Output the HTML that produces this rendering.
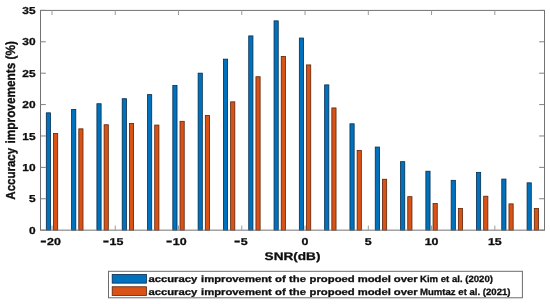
<!DOCTYPE html>
<html><head><meta charset="utf-8"><title>Accuracy improvements</title>
<style>
html,body{margin:0;padding:0;background:#fff;}
svg{display:block;}
text{font-family:"Liberation Sans",sans-serif;font-weight:bold;fill:#111;stroke:#111;stroke-width:0.3px;stroke-linejoin:round;text-rendering:geometricPrecision;}
</style></head><body>
<svg width="550" height="304" viewBox="0 0 550 304">
<defs><filter id="soft" x="0" y="0" width="550" height="304" filterUnits="userSpaceOnUse"><feGaussianBlur stdDeviation="0.36"/></filter></defs>
<rect x="0" y="0" width="550" height="304" fill="#ffffff"/>
<g filter="url(#soft)">
<rect x="0" y="0" width="550" height="304" fill="#ffffff"/>

<rect x="46.30" y="112.83" width="4.20" height="117.32" fill="#0072bd" stroke="#062c4c" stroke-width="0.8"/>
<rect x="53.50" y="133.55" width="4.20" height="96.60" fill="#d95319" stroke="#5a240a" stroke-width="0.8"/>
<rect x="71.60" y="109.37" width="4.20" height="120.78" fill="#0072bd" stroke="#062c4c" stroke-width="0.8"/>
<rect x="78.80" y="128.84" width="4.20" height="101.31" fill="#d95319" stroke="#5a240a" stroke-width="0.8"/>
<rect x="96.91" y="103.72" width="4.20" height="126.43" fill="#0072bd" stroke="#062c4c" stroke-width="0.8"/>
<rect x="104.11" y="124.76" width="4.20" height="105.39" fill="#d95319" stroke="#5a240a" stroke-width="0.8"/>
<rect x="122.21" y="98.70" width="4.20" height="131.45" fill="#0072bd" stroke="#062c4c" stroke-width="0.8"/>
<rect x="129.41" y="123.50" width="4.20" height="106.65" fill="#d95319" stroke="#5a240a" stroke-width="0.8"/>
<rect x="147.52" y="94.62" width="4.20" height="135.53" fill="#0072bd" stroke="#062c4c" stroke-width="0.8"/>
<rect x="154.72" y="125.07" width="4.20" height="105.08" fill="#d95319" stroke="#5a240a" stroke-width="0.8"/>
<rect x="172.82" y="85.52" width="4.20" height="144.63" fill="#0072bd" stroke="#062c4c" stroke-width="0.8"/>
<rect x="180.02" y="121.30" width="4.20" height="108.85" fill="#d95319" stroke="#5a240a" stroke-width="0.8"/>
<rect x="198.12" y="73.15" width="4.20" height="157.00" fill="#0072bd" stroke="#062c4c" stroke-width="0.8"/>
<rect x="205.32" y="115.53" width="4.20" height="114.62" fill="#d95319" stroke="#5a240a" stroke-width="0.8"/>
<rect x="223.43" y="59.15" width="4.20" height="171.00" fill="#0072bd" stroke="#062c4c" stroke-width="0.8"/>
<rect x="230.63" y="101.84" width="4.20" height="128.31" fill="#d95319" stroke="#5a240a" stroke-width="0.8"/>
<rect x="248.73" y="35.91" width="4.20" height="194.24" fill="#0072bd" stroke="#062c4c" stroke-width="0.8"/>
<rect x="255.93" y="76.73" width="4.20" height="153.42" fill="#d95319" stroke="#5a240a" stroke-width="0.8"/>
<rect x="274.04" y="20.85" width="4.20" height="209.30" fill="#0072bd" stroke="#062c4c" stroke-width="0.8"/>
<rect x="281.24" y="56.51" width="4.20" height="173.64" fill="#d95319" stroke="#5a240a" stroke-width="0.8"/>
<rect x="299.34" y="38.05" width="4.20" height="192.10" fill="#0072bd" stroke="#062c4c" stroke-width="0.8"/>
<rect x="306.54" y="64.92" width="4.20" height="165.23" fill="#d95319" stroke="#5a240a" stroke-width="0.8"/>
<rect x="324.64" y="84.89" width="4.20" height="145.26" fill="#0072bd" stroke="#062c4c" stroke-width="0.8"/>
<rect x="331.84" y="107.93" width="4.20" height="122.22" fill="#d95319" stroke="#5a240a" stroke-width="0.8"/>
<rect x="349.95" y="123.81" width="4.20" height="106.34" fill="#0072bd" stroke="#062c4c" stroke-width="0.8"/>
<rect x="357.15" y="150.37" width="4.20" height="79.78" fill="#d95319" stroke="#5a240a" stroke-width="0.8"/>
<rect x="375.25" y="147.04" width="4.20" height="83.11" fill="#0072bd" stroke="#062c4c" stroke-width="0.8"/>
<rect x="382.45" y="179.25" width="4.20" height="50.90" fill="#d95319" stroke="#5a240a" stroke-width="0.8"/>
<rect x="400.56" y="161.67" width="4.20" height="68.48" fill="#0072bd" stroke="#062c4c" stroke-width="0.8"/>
<rect x="407.76" y="196.65" width="4.20" height="33.50" fill="#d95319" stroke="#5a240a" stroke-width="0.8"/>
<rect x="425.86" y="171.22" width="4.20" height="58.93" fill="#0072bd" stroke="#062c4c" stroke-width="0.8"/>
<rect x="433.06" y="203.55" width="4.20" height="26.60" fill="#d95319" stroke="#5a240a" stroke-width="0.8"/>
<rect x="451.16" y="180.32" width="4.20" height="49.83" fill="#0072bd" stroke="#062c4c" stroke-width="0.8"/>
<rect x="458.36" y="208.45" width="4.20" height="21.70" fill="#d95319" stroke="#5a240a" stroke-width="0.8"/>
<rect x="476.47" y="172.35" width="4.20" height="57.80" fill="#0072bd" stroke="#062c4c" stroke-width="0.8"/>
<rect x="483.67" y="196.21" width="4.20" height="33.94" fill="#d95319" stroke="#5a240a" stroke-width="0.8"/>
<rect x="501.77" y="179.07" width="4.20" height="51.08" fill="#0072bd" stroke="#062c4c" stroke-width="0.8"/>
<rect x="508.97" y="203.87" width="4.20" height="26.28" fill="#d95319" stroke="#5a240a" stroke-width="0.8"/>
<rect x="527.08" y="182.83" width="4.20" height="47.32" fill="#0072bd" stroke="#062c4c" stroke-width="0.8"/>
<rect x="534.28" y="208.58" width="4.20" height="21.57" fill="#d95319" stroke="#5a240a" stroke-width="0.8"/>
<rect x="40.5" y="10.4" width="504.0" height="219.75" fill="none" stroke="#727272" stroke-width="1"/>
<line x1="52.00" y1="230.15" x2="52.00" y2="225.55" stroke="#9a9a9a" stroke-width="1"/>
<line x1="52.00" y1="10.4" x2="52.00" y2="15.0" stroke="#9a9a9a" stroke-width="1"/>
<line x1="115.26" y1="230.15" x2="115.26" y2="225.55" stroke="#9a9a9a" stroke-width="1"/>
<line x1="115.26" y1="10.4" x2="115.26" y2="15.0" stroke="#9a9a9a" stroke-width="1"/>
<line x1="178.52" y1="230.15" x2="178.52" y2="225.55" stroke="#9a9a9a" stroke-width="1"/>
<line x1="178.52" y1="10.4" x2="178.52" y2="15.0" stroke="#9a9a9a" stroke-width="1"/>
<line x1="241.78" y1="230.15" x2="241.78" y2="225.55" stroke="#9a9a9a" stroke-width="1"/>
<line x1="241.78" y1="10.4" x2="241.78" y2="15.0" stroke="#9a9a9a" stroke-width="1"/>
<line x1="305.04" y1="230.15" x2="305.04" y2="225.55" stroke="#9a9a9a" stroke-width="1"/>
<line x1="305.04" y1="10.4" x2="305.04" y2="15.0" stroke="#9a9a9a" stroke-width="1"/>
<line x1="368.30" y1="230.15" x2="368.30" y2="225.55" stroke="#9a9a9a" stroke-width="1"/>
<line x1="368.30" y1="10.4" x2="368.30" y2="15.0" stroke="#9a9a9a" stroke-width="1"/>
<line x1="431.56" y1="230.15" x2="431.56" y2="225.55" stroke="#9a9a9a" stroke-width="1"/>
<line x1="431.56" y1="10.4" x2="431.56" y2="15.0" stroke="#9a9a9a" stroke-width="1"/>
<line x1="494.82" y1="230.15" x2="494.82" y2="225.55" stroke="#9a9a9a" stroke-width="1"/>
<line x1="494.82" y1="10.4" x2="494.82" y2="15.0" stroke="#9a9a9a" stroke-width="1"/>
<line x1="40.5" y1="230.15" x2="45.8" y2="230.15" stroke="#808080" stroke-width="1"/>
<line x1="544.5" y1="230.15" x2="539.2" y2="230.15" stroke="#808080" stroke-width="1"/>
<line x1="40.5" y1="198.76" x2="45.8" y2="198.76" stroke="#808080" stroke-width="1"/>
<line x1="544.5" y1="198.76" x2="539.2" y2="198.76" stroke="#808080" stroke-width="1"/>
<line x1="40.5" y1="167.36" x2="45.8" y2="167.36" stroke="#808080" stroke-width="1"/>
<line x1="544.5" y1="167.36" x2="539.2" y2="167.36" stroke="#808080" stroke-width="1"/>
<line x1="40.5" y1="135.97" x2="45.8" y2="135.97" stroke="#808080" stroke-width="1"/>
<line x1="544.5" y1="135.97" x2="539.2" y2="135.97" stroke="#808080" stroke-width="1"/>
<line x1="40.5" y1="104.58" x2="45.8" y2="104.58" stroke="#808080" stroke-width="1"/>
<line x1="544.5" y1="104.58" x2="539.2" y2="104.58" stroke="#808080" stroke-width="1"/>
<line x1="40.5" y1="73.19" x2="45.8" y2="73.19" stroke="#808080" stroke-width="1"/>
<line x1="544.5" y1="73.19" x2="539.2" y2="73.19" stroke="#808080" stroke-width="1"/>
<line x1="40.5" y1="41.79" x2="45.8" y2="41.79" stroke="#808080" stroke-width="1"/>
<line x1="544.5" y1="41.79" x2="539.2" y2="41.79" stroke="#808080" stroke-width="1"/>
<line x1="40.5" y1="10.40" x2="45.8" y2="10.40" stroke="#808080" stroke-width="1"/>
<line x1="544.5" y1="10.40" x2="539.2" y2="10.40" stroke="#808080" stroke-width="1"/>
<text transform="translate(40.61,246.45) scale(1.0,1.38)" font-size="10.0" stroke-width="0.15">−</text>
<text transform="translate(54.00,244.5) scale(1.24,1)" font-size="10.0" stroke-width="0.15" text-anchor="middle">20</text>
<text transform="translate(103.07,246.45) scale(1.0,1.38)" font-size="10.0" stroke-width="0.15">−</text>
<text transform="translate(116.46,244.5) scale(1.24,1)" font-size="10.0" stroke-width="0.15" text-anchor="middle">15</text>
<text transform="translate(166.33,246.45) scale(1.0,1.38)" font-size="10.0" stroke-width="0.15">−</text>
<text transform="translate(179.72,244.5) scale(1.24,1)" font-size="10.0" stroke-width="0.15" text-anchor="middle">10</text>
<text transform="translate(234.13,246.45) scale(1.0,1.38)" font-size="10.0" stroke-width="0.15">−</text>
<text transform="translate(244.08,244.5) scale(1.24,1)" font-size="10.0" stroke-width="0.15" text-anchor="middle">5</text>
<text transform="translate(305.04,244.5) scale(1.24,1)" font-size="10.0" stroke-width="0.15" text-anchor="middle">0</text>
<text transform="translate(368.30,244.5) scale(1.24,1)" font-size="10.0" stroke-width="0.15" text-anchor="middle">5</text>
<text transform="translate(431.56,244.5) scale(1.24,1)" font-size="10.0" stroke-width="0.15" text-anchor="middle">10</text>
<text transform="translate(494.82,244.5) scale(1.24,1)" font-size="10.0" stroke-width="0.15" text-anchor="middle">15</text>
<text transform="translate(35.6,233.70) scale(1.175,1)" font-size="10.15" stroke-width="0.15" text-anchor="end">0</text>
<text transform="translate(35.6,202.31) scale(1.175,1)" font-size="10.15" stroke-width="0.15" text-anchor="end">5</text>
<text transform="translate(35.6,170.91) scale(1.175,1)" font-size="10.15" stroke-width="0.15" text-anchor="end">10</text>
<text transform="translate(35.6,139.52) scale(1.175,1)" font-size="10.15" stroke-width="0.15" text-anchor="end">15</text>
<text transform="translate(35.6,108.13) scale(1.175,1)" font-size="10.15" stroke-width="0.15" text-anchor="end">20</text>
<text transform="translate(35.6,76.74) scale(1.175,1)" font-size="10.15" stroke-width="0.15" text-anchor="end">25</text>
<text transform="translate(35.6,45.34) scale(1.175,1)" font-size="10.15" stroke-width="0.15" text-anchor="end">30</text>
<text transform="translate(35.6,13.95) scale(1.175,1)" font-size="10.15" stroke-width="0.15" text-anchor="end">35</text>
<text transform="translate(292.5,260.4) scale(1.235,1)" font-size="11" stroke-width="0.15" text-anchor="middle">SNR(dB)</text>
<text transform="translate(15.3,199.69) rotate(-90) scale(1,1.13)" font-size="11.53" stroke-width="0.15" text-anchor="start">Accuracy</text>
<text transform="translate(15.3,41.05) rotate(-90) scale(1,1.13)" font-size="11.82" stroke-width="0.15" text-anchor="end">improvements (%)</text>
<rect x="108.5" y="271.3" width="413.9" height="26.5" fill="#ffffff" stroke="#6c6c6c" stroke-width="1"/>
<rect x="112.2" y="274.45" width="34.2" height="8.7" fill="#0072bd" stroke="#062c4c" stroke-width="0.8"/>
<rect x="112.2" y="286.75" width="34.2" height="8.7" fill="#d95319" stroke="#5a240a" stroke-width="0.8"/>
<text transform="translate(148.4,282.3) scale(1.254,1)" font-size="9.0" xml:space="preserve">accuracy<tspan dx="0.4"> improvement</tspan> of<tspan dx="0.25"> the</tspan><tspan dx="0.3"> propoed</tspan><tspan dx="-0.15"> model</tspan><tspan dx="-0.15"> over</tspan></text>
<text transform="translate(420.0,282.3) scale(1.05,1)" font-size="9.15" stroke-width="0.22">Kim et al. (2020)</text>
<text transform="translate(148.4,294.6) scale(1.254,1)" font-size="9.0" xml:space="preserve">accuracy<tspan dx="0.4"> improvement</tspan> of<tspan dx="0.25"> the</tspan><tspan dx="0.3"> propoed</tspan><tspan dx="-0.15"> model</tspan><tspan dx="-0.15"> over</tspan></text>
<text transform="translate(420.0,294.6) scale(1.05,1)" font-size="9.15" stroke-width="0.22">Mumtaz et al. (2021)</text>
</g>
</svg></body></html>
